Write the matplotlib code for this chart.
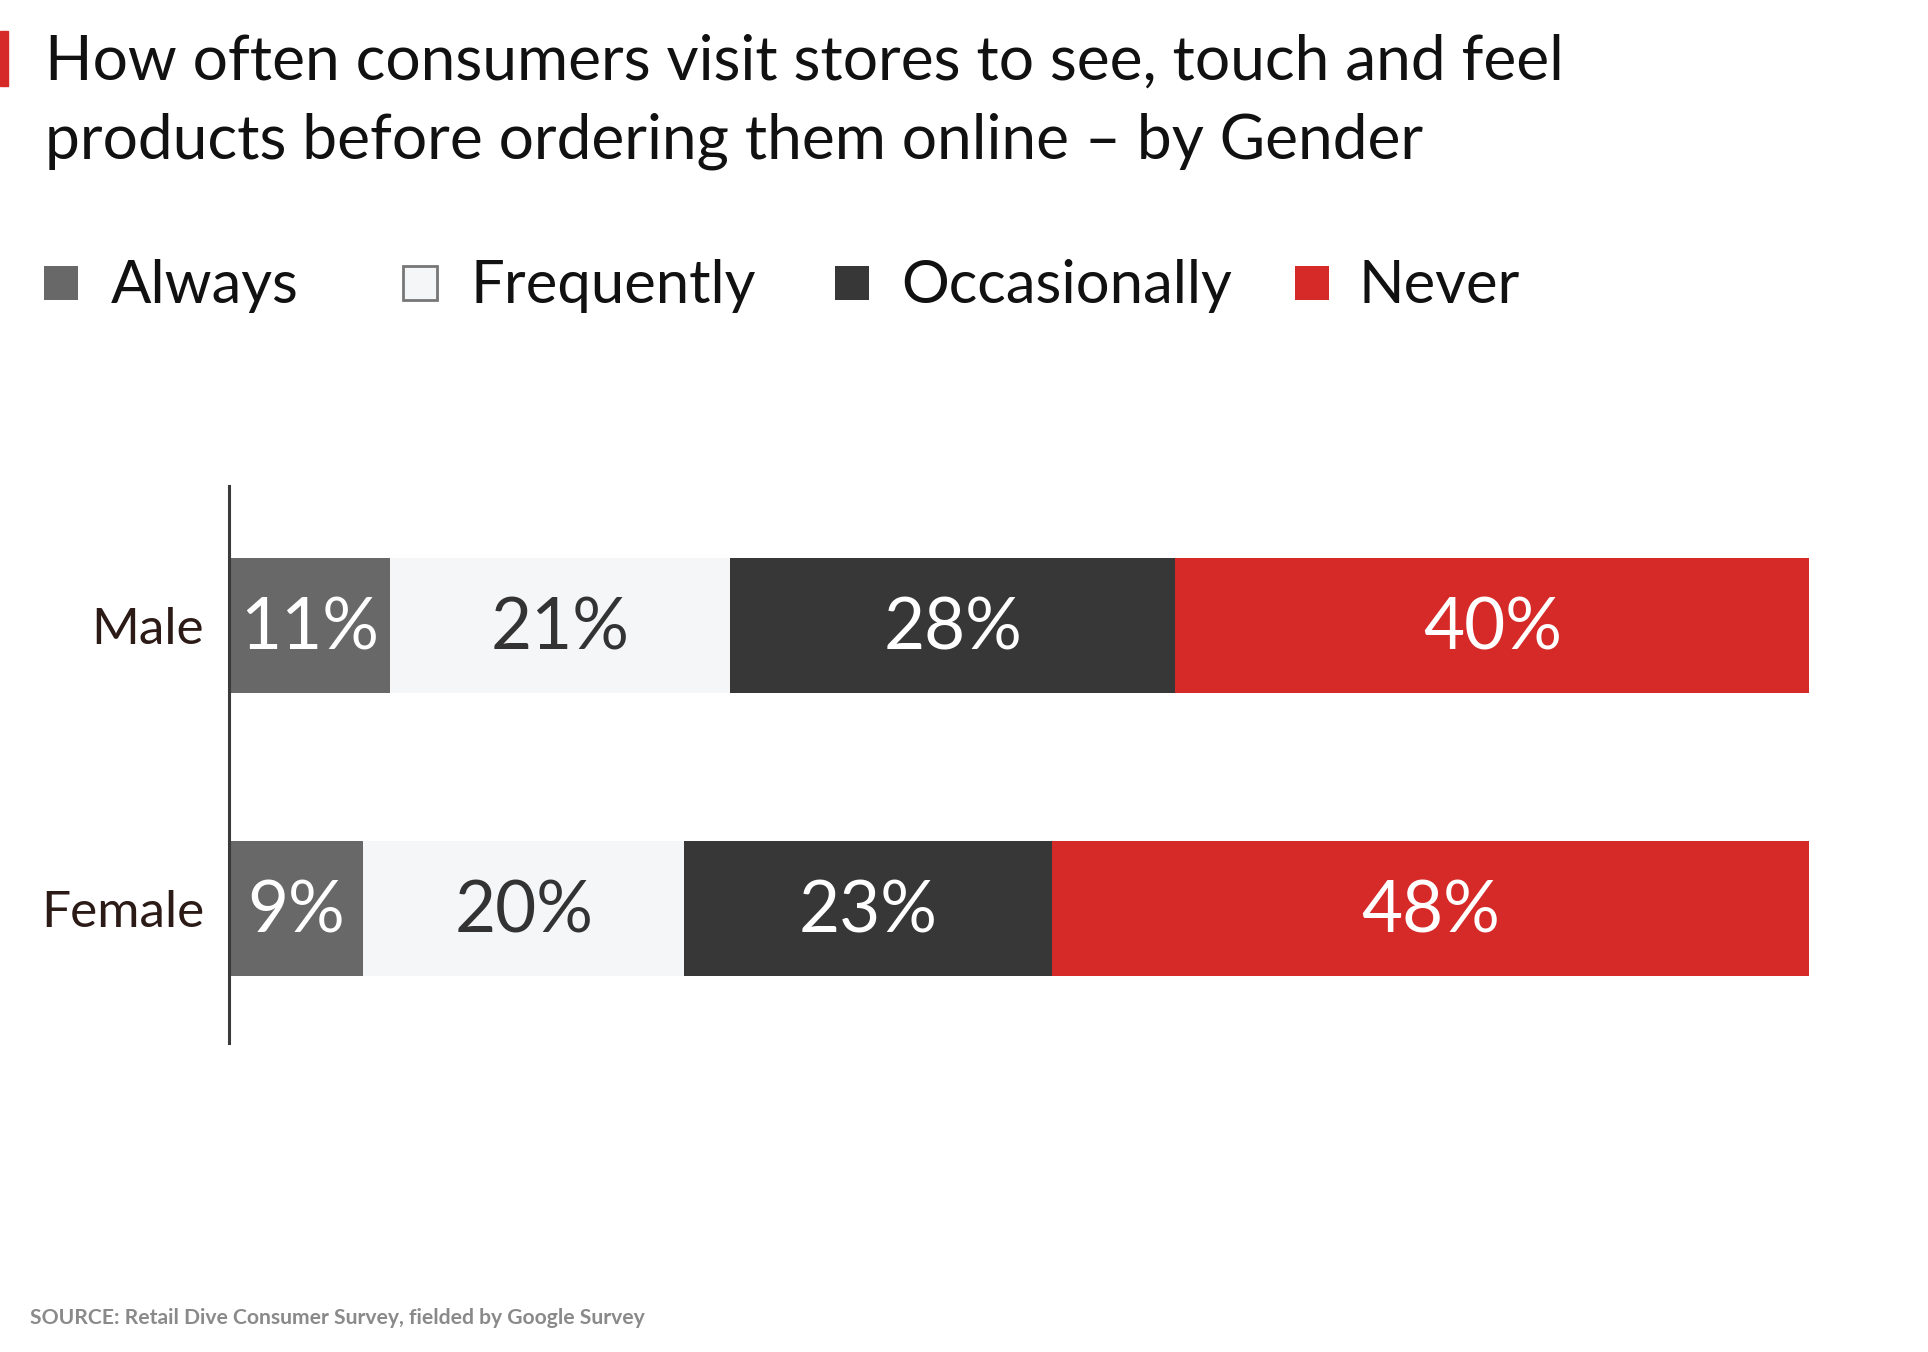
import matplotlib
matplotlib.use("Agg")
import matplotlib.pyplot as plt
from matplotlib.patches import Rectangle
import numpy as np

# ---- data ----
groups = ["Male", "Female"]
series = ["Always", "Frequently", "Occasionally", "Never"]
always = [10.2, 8.5]
frequently = [21.5, 20.3]
occasionally = [28.2, 23.3]
never = [40.1, 47.9]
labels_always = ["11%", "9%"]
labels_frequently = ["21%", "20%"]
labels_occasionally = ["28%", "23%"]
labels_never = ["40%", "48%"]

title_lines = ["How often consumers visit stores to see, touch and feel",
               "products before ordering them online \u2013 by Gender"]
source = "SOURCE: Retail Dive Consumer Survey, fielded by Google Survey"

colors = ["#686868", "#f5f6f8", "#373737", "#d62a29"]
text_colors = ["white", "#333333", "white", "white"]

plt.rcParams['font.family'] = ['Lato', 'DejaVu Sans']

W, H = 1928, 1352
fig = plt.figure(figsize=(W / 100, H / 100), dpi=100)
fig.patch.set_facecolor("white")

# axes placement (pixel based)
ax_left, ax_right, ax_top, ax_bot = 229, 1809, 486, 1043
ax = fig.add_axes([ax_left / W, 1 - ax_bot / H, (ax_right - ax_left) / W, (ax_bot - ax_top) / H])

vals = [always, frequently, occasionally, never]
labs = [labels_always, labels_frequently, labels_occasionally, labels_never]
y = np.arange(len(groups))
left = np.zeros(len(groups))
for v, lab, c, tc in zip(vals, labs, colors, text_colors):
    v = np.array(v)
    ax.barh(y, v, left=left, height=0.477, color=c, edgecolor="none")
    for yi, l, w, t in zip(y, left, v, lab):
        ax.text(l + w / 2, yi + 0.012, t, ha="center", va="center", color=tc,
                fontsize=51, fontweight="normal")
    left = left + v

ax.set_xlim(0, 100)
ax.set_ylim(1.475, -0.493)
for s in ["top", "right", "bottom"]:
    ax.spines[s].set_visible(False)
ax.spines["left"].set_color("#3a3a3a")
ax.spines["left"].set_linewidth(2.2)
ax.set_xticks([])
ax.set_yticks(y)
ax.set_yticklabels(groups, fontsize=37, color="#2b1a16")
ax.tick_params(axis="y", length=0, pad=18)
ax.set_facecolor("none")

# title with red marker
fig.patches.append(Rectangle((0, 1 - 86 / H), 8 / W, 55 / H, transform=fig.transFigure,
                             color="#d62a29", zorder=5))
for line, base in zip(title_lines, [80, 159]):
    fig.text(45 / W, 1 - base / H, line, fontsize=44.8, color="#111111",
             va="baseline", ha="left")

# legend
sq_x = [44, 403, 835, 1295]
tx_x = [111, 470, 901, 1359]
leg_y = 286
sq = 34
for name, c, sx, tx in zip(series, colors, sq_x, tx_x):
    ec = "#777777" if name == "Frequently" else c
    fig.patches.append(Rectangle((sx / W, 1 - (leg_y - 3 + sq / 2) / H), sq / W, sq / H,
                                 transform=fig.transFigure, facecolor=c, edgecolor=ec,
                                 linewidth=2 if name == "Frequently" else 0))
    fig.text(tx / W, 1 - leg_y / H, name, fontsize=43, color="#111111", va="center",
             ha="left", fontweight="normal")

fig.text(30 / W, 1 - 1318 / H, source, fontsize=15.2, color="#8a8a8a", va="center",
         ha="left", fontweight="bold")

fig.savefig("out.png", dpi=100, facecolor="white")
